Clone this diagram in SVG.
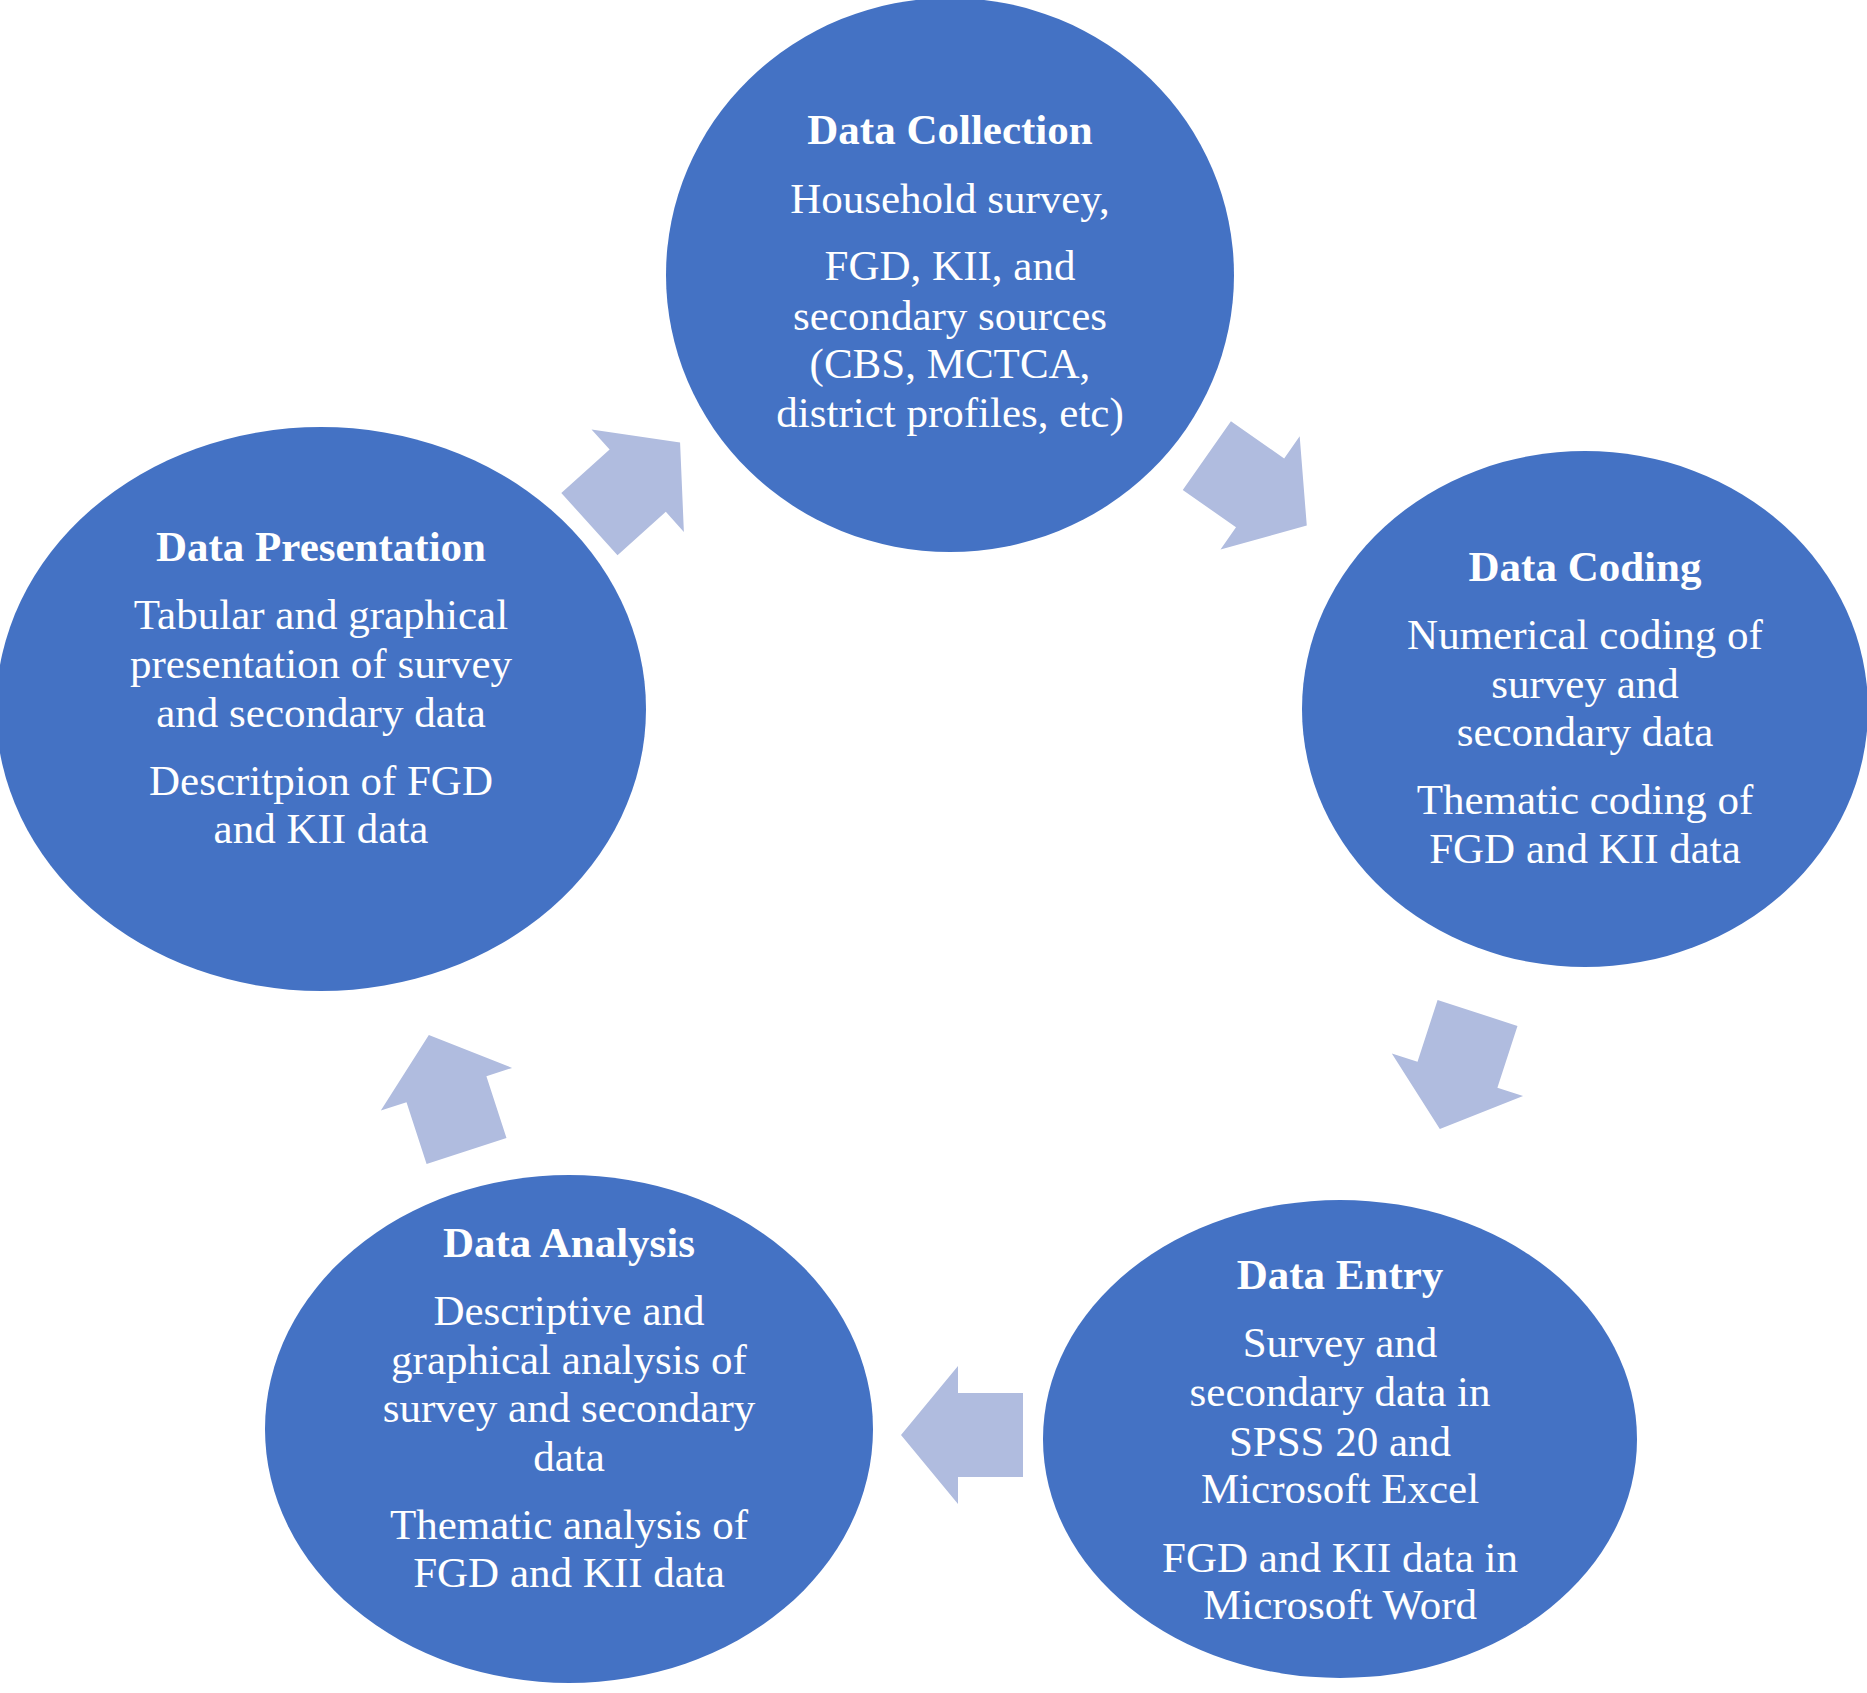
<svg xmlns="http://www.w3.org/2000/svg" width="1867" height="1693" viewBox="0 0 1867 1693">
<defs><style>
.n{fill:#4472C4}
.t{font-family:"Liberation Serif","Times New Roman",serif;font-size:43px;fill:#fff;text-anchor:middle}
.b{font-weight:bold}
.a{fill:#B0BCDF}
</style>
<polygon id="arr" points="-60,-42 5,-42 5,-69 62,0 5,69 5,42 -60,42"/></defs>
<rect width="1867" height="1693" fill="#fff"/>
<g id="connectors" class="a">
<use href="#arr" transform="translate(634,484) rotate(-42)"/>
<use href="#arr" transform="translate(1256,490) rotate(35)"/>
<use href="#arr" transform="translate(1459,1070) rotate(108)"/>
<use href="#arr" transform="translate(963,1435) rotate(180)"/>
<use href="#arr" transform="translate(448,1094) rotate(-108)"/>
</g>
<g id="collection"><ellipse class="n" cx="950" cy="275" rx="284" ry="277"/>
<text class="t" x="950"><tspan class="b" x="950" y="144">Data Collection</tspan><tspan x="950" y="213">Household survey,</tspan><tspan x="950" y="280">FGD, KII, and</tspan><tspan x="950" y="330">secondary sources</tspan><tspan x="950" y="378">(CBS, MCTCA,</tspan><tspan x="950" y="427">district profiles, etc)</tspan></text></g>
<g id="coding"><ellipse class="n" cx="1585" cy="709" rx="283" ry="258"/>
<text class="t"><tspan class="b" x="1585" y="581">Data Coding</tspan><tspan x="1585" y="649">Numerical coding of</tspan><tspan x="1585" y="698">survey and</tspan><tspan x="1585" y="746">secondary data</tspan><tspan x="1585" y="814">Thematic coding of</tspan><tspan x="1585" y="863">FGD and KII data</tspan></text></g>
<g id="entry"><ellipse class="n" cx="1340" cy="1439" rx="297" ry="239"/>
<text class="t"><tspan class="b" x="1340" y="1289">Data Entry</tspan><tspan x="1340" y="1357">Survey and</tspan><tspan x="1340" y="1406">secondary data in</tspan><tspan x="1340" y="1456">SPSS 20 and</tspan><tspan x="1340" y="1503">Microsoft Excel</tspan><tspan x="1340" y="1572">FGD and KII data in</tspan><tspan x="1340" y="1619">Microsoft Word</tspan></text></g>
<g id="analysis"><ellipse class="n" cx="569" cy="1429" rx="304" ry="254"/>
<text class="t"><tspan class="b" x="569" y="1257">Data Analysis</tspan><tspan x="569" y="1325">Descriptive and</tspan><tspan x="569" y="1374">graphical analysis of</tspan><tspan x="569" y="1422">survey and secondary</tspan><tspan x="569" y="1471">data</tspan><tspan x="569" y="1539">Thematic analysis of</tspan><tspan x="569" y="1587">FGD and KII data</tspan></text></g>
<g id="presentation"><ellipse class="n" cx="321" cy="709" rx="325" ry="282"/>
<text class="t"><tspan class="b" x="321" y="561">Data Presentation</tspan><tspan x="321" y="629">Tabular and graphical</tspan><tspan x="321" y="678">presentation of survey</tspan><tspan x="321" y="727">and secondary data</tspan><tspan x="321" y="795">Descritpion of FGD</tspan><tspan x="321" y="843">and KII data</tspan></text></g>
</svg>
